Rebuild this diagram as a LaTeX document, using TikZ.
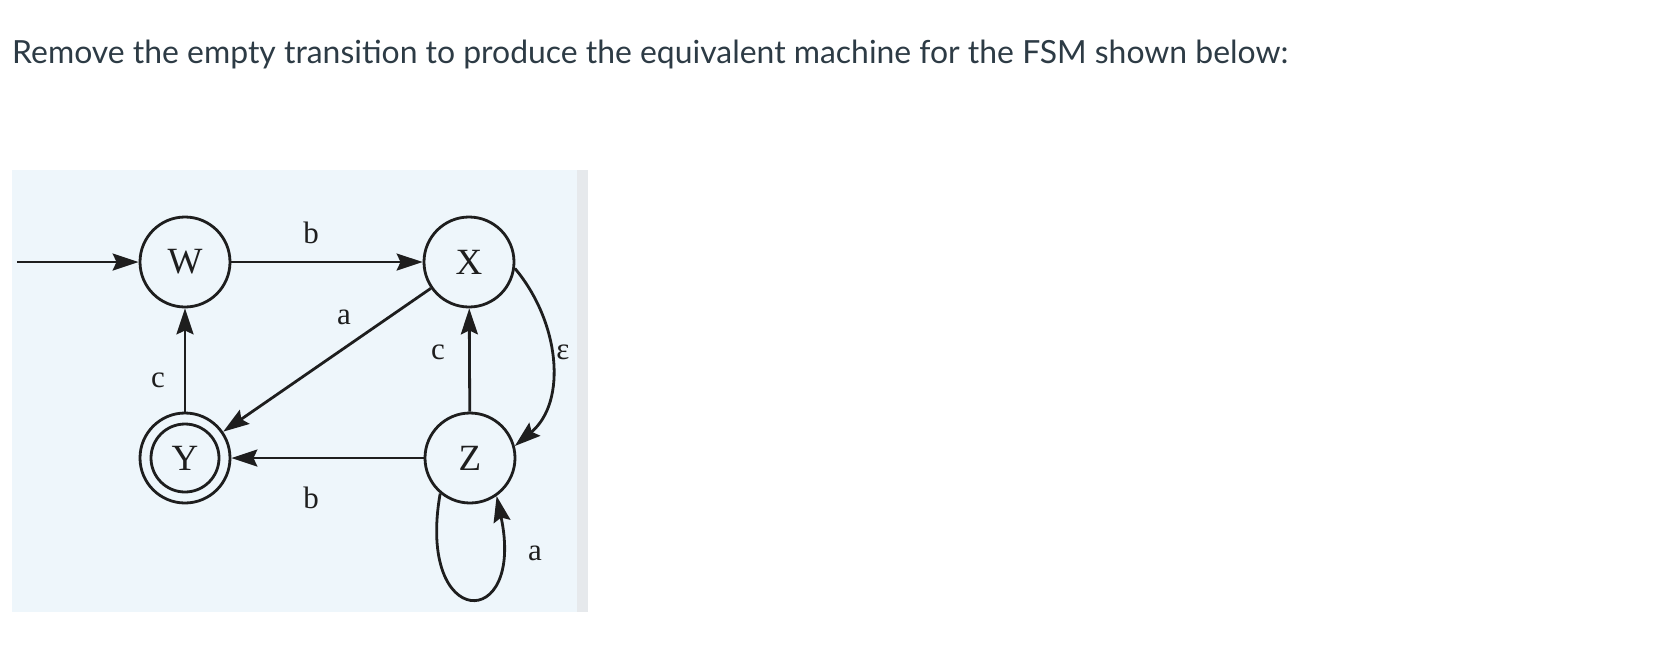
\documentclass[tikz,border=0pt]{standalone}
\usepackage{fontspec}
\setmainfont{Liberation Serif}
\newfontfamily\latofont{Lato}
\usetikzlibrary{arrows.meta}
\definecolor{txt}{HTML}{2D3B45}
\definecolor{boxbg}{HTML}{EEF6FB}
\definecolor{boxedge}{HTML}{E6E9EC}
\definecolor{ink}{HTML}{1E1E1E}
\begin{document}
\begin{tikzpicture}[x=1pt,y=1pt,
  state/.style={circle, draw=ink, line width=2.8pt, minimum size=90pt, inner sep=0pt, text=ink, font=\fontsize{37}{37}\selectfont},
  arr/.style={draw=ink, line width=2.8pt, -{Stealth[length=26pt,width=17pt,inset=4pt]}},
  lbl/.style={font=\fontsize{31}{31}\selectfont, text=ink, inner sep=0pt}]
\useasboundingbox (0,0) rectangle (1670,-649);
\fill[white] (0,0) rectangle (1670,-649);
\fill[boxbg] (12,-170) rectangle (588,-612);
\fill[boxedge] (577,-170) rectangle (588,-612);
\node[anchor=base west, text=txt, font=\latofont\fontsize{31.9}{36}\selectfont, inner sep=0pt] (title) at (12,-63) {Remove the empty transition to produce the equivalent machine for the FSM shown below:};
\node[state] (W) at (185,-262) {W};
\node[state] (X) at (469,-262) {X};
\node[state] (Y) at (185,-458) {Y};
\node[state] (Z) at (470,-458) {Z};
\draw[ink, line width=2.8pt] (Y.center) circle (34pt);
\coordinate (start) at (17,-262);
\draw[arr] (start) -- (W);
\draw[arr] (W) -- (X);
\draw[arr] (X) -- (Y);
\draw[arr] (Y) -- (W);
\draw[arr] (Z) -- (X);
\draw[arr] (Z) -- (Y);
\draw[arr] (X.-8) to[out=-50, in=40] (Z.15);
\draw[arr] (Z.-130) .. controls +(-100:140) and +(-78:140) .. (Z.-55);
\node[lbl] (lb1) at (311,-233) {b};
\node[lbl] (la1) at (344,-317) {a};
\node[lbl] (lc1) at (158,-380) {c};
\node[lbl] (lc2) at (438,-352) {c};
\node[lbl] (le) at (563,-352) {ε};
\node[lbl] (lb2) at (311,-498) {b};
\node[lbl] (la2) at (535,-553) {a};
\end{tikzpicture}
\end{document}
